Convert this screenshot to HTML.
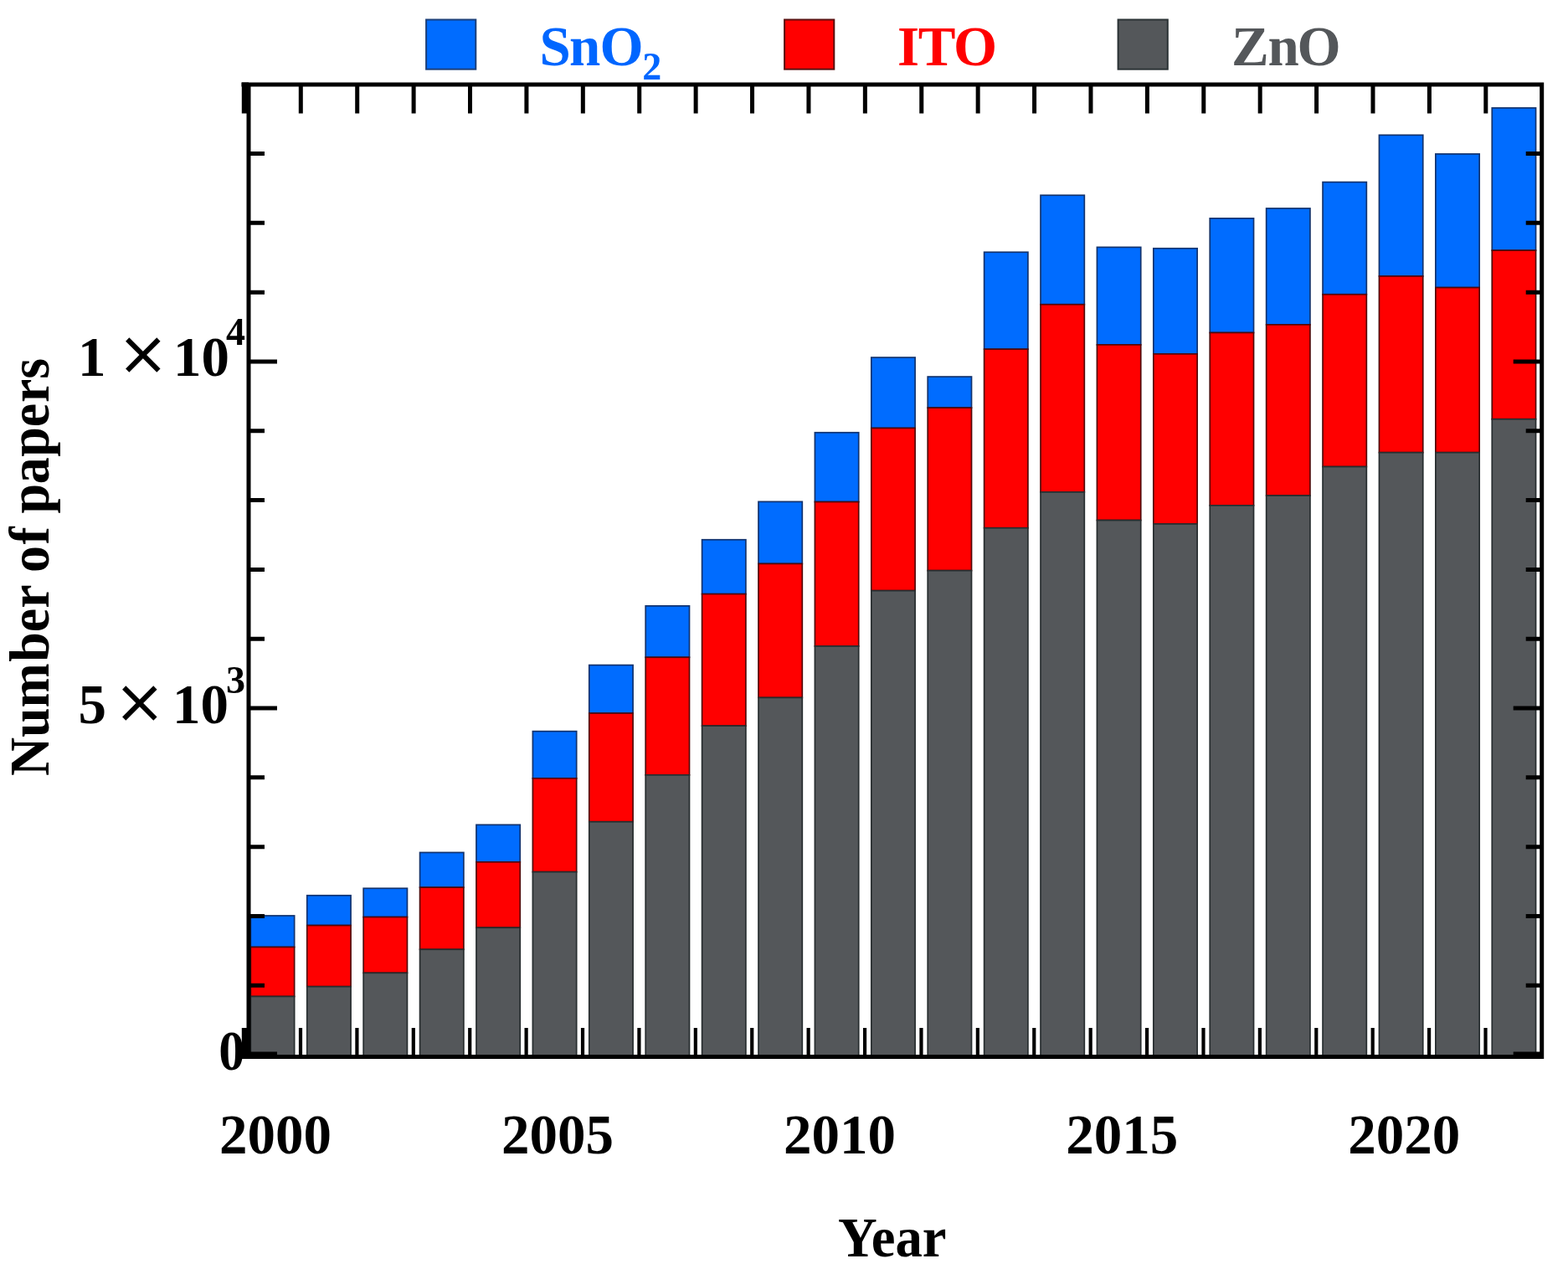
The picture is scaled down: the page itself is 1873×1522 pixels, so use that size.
<!DOCTYPE html>
<html><head><meta charset="utf-8"><title>Number of papers per year</title>
<style>html,body{margin:0;padding:0;background:#fff}svg{display:block}</style></head>
<body><div id="w"><svg width="1873" height="1522" viewBox="0 0 1873 1522">
<rect width="1873" height="1522" fill="#fff"/>
<rect x="299.35" y="1093.95" width="52.30" height="37.50" fill="#006cff" stroke="#12336e" stroke-width="1.7"/>
<rect x="299.35" y="1131.45" width="52.30" height="59.00" fill="#ff0000" stroke="#520808" stroke-width="1.7"/>
<rect x="299.35" y="1190.45" width="52.30" height="70.40" fill="#54575a" stroke="#272d2f" stroke-width="1.7"/>
<rect x="366.75" y="1069.75" width="52.30" height="35.80" fill="#006cff" stroke="#12336e" stroke-width="1.7"/>
<rect x="366.75" y="1105.55" width="52.30" height="73.10" fill="#ff0000" stroke="#520808" stroke-width="1.7"/>
<rect x="366.75" y="1178.65" width="52.30" height="82.20" fill="#54575a" stroke="#272d2f" stroke-width="1.7"/>
<rect x="434.16" y="1061.25" width="52.30" height="34.30" fill="#006cff" stroke="#12336e" stroke-width="1.7"/>
<rect x="434.16" y="1095.55" width="52.30" height="66.80" fill="#ff0000" stroke="#520808" stroke-width="1.7"/>
<rect x="434.16" y="1162.35" width="52.30" height="98.50" fill="#54575a" stroke="#272d2f" stroke-width="1.7"/>
<rect x="501.57" y="1018.45" width="52.30" height="41.70" fill="#006cff" stroke="#12336e" stroke-width="1.7"/>
<rect x="501.57" y="1060.15" width="52.30" height="74.10" fill="#ff0000" stroke="#520808" stroke-width="1.7"/>
<rect x="501.57" y="1134.25" width="52.30" height="126.60" fill="#54575a" stroke="#272d2f" stroke-width="1.7"/>
<rect x="568.97" y="985.35" width="52.30" height="44.50" fill="#006cff" stroke="#12336e" stroke-width="1.7"/>
<rect x="568.97" y="1029.85" width="52.30" height="78.40" fill="#ff0000" stroke="#520808" stroke-width="1.7"/>
<rect x="568.97" y="1108.25" width="52.30" height="152.60" fill="#54575a" stroke="#272d2f" stroke-width="1.7"/>
<rect x="636.38" y="873.65" width="52.30" height="56.20" fill="#006cff" stroke="#12336e" stroke-width="1.7"/>
<rect x="636.38" y="929.85" width="52.30" height="111.80" fill="#ff0000" stroke="#520808" stroke-width="1.7"/>
<rect x="636.38" y="1041.65" width="52.30" height="219.20" fill="#54575a" stroke="#272d2f" stroke-width="1.7"/>
<rect x="703.78" y="794.55" width="52.30" height="57.50" fill="#006cff" stroke="#12336e" stroke-width="1.7"/>
<rect x="703.78" y="852.05" width="52.30" height="129.70" fill="#ff0000" stroke="#520808" stroke-width="1.7"/>
<rect x="703.78" y="981.75" width="52.30" height="279.10" fill="#54575a" stroke="#272d2f" stroke-width="1.7"/>
<rect x="771.19" y="723.85" width="52.30" height="61.40" fill="#006cff" stroke="#12336e" stroke-width="1.7"/>
<rect x="771.19" y="785.25" width="52.30" height="140.60" fill="#ff0000" stroke="#520808" stroke-width="1.7"/>
<rect x="771.19" y="925.85" width="52.30" height="335.00" fill="#54575a" stroke="#272d2f" stroke-width="1.7"/>
<rect x="838.59" y="644.75" width="52.30" height="64.90" fill="#006cff" stroke="#12336e" stroke-width="1.7"/>
<rect x="838.59" y="709.65" width="52.30" height="157.50" fill="#ff0000" stroke="#520808" stroke-width="1.7"/>
<rect x="838.59" y="867.15" width="52.30" height="393.70" fill="#54575a" stroke="#272d2f" stroke-width="1.7"/>
<rect x="906.00" y="599.35" width="52.30" height="74.10" fill="#006cff" stroke="#12336e" stroke-width="1.7"/>
<rect x="906.00" y="673.45" width="52.30" height="160.00" fill="#ff0000" stroke="#520808" stroke-width="1.7"/>
<rect x="906.00" y="833.45" width="52.30" height="427.40" fill="#54575a" stroke="#272d2f" stroke-width="1.7"/>
<rect x="973.40" y="516.75" width="52.30" height="82.80" fill="#006cff" stroke="#12336e" stroke-width="1.7"/>
<rect x="973.40" y="599.55" width="52.30" height="172.40" fill="#ff0000" stroke="#520808" stroke-width="1.7"/>
<rect x="973.40" y="771.95" width="52.30" height="488.90" fill="#54575a" stroke="#272d2f" stroke-width="1.7"/>
<rect x="1040.80" y="427.05" width="52.30" height="84.40" fill="#006cff" stroke="#12336e" stroke-width="1.7"/>
<rect x="1040.80" y="511.45" width="52.30" height="194.20" fill="#ff0000" stroke="#520808" stroke-width="1.7"/>
<rect x="1040.80" y="705.65" width="52.30" height="555.20" fill="#54575a" stroke="#272d2f" stroke-width="1.7"/>
<rect x="1108.21" y="450.05" width="52.30" height="37.10" fill="#006cff" stroke="#12336e" stroke-width="1.7"/>
<rect x="1108.21" y="487.15" width="52.30" height="194.50" fill="#ff0000" stroke="#520808" stroke-width="1.7"/>
<rect x="1108.21" y="681.65" width="52.30" height="579.20" fill="#54575a" stroke="#272d2f" stroke-width="1.7"/>
<rect x="1175.61" y="301.25" width="52.30" height="115.90" fill="#006cff" stroke="#12336e" stroke-width="1.7"/>
<rect x="1175.61" y="417.15" width="52.30" height="213.60" fill="#ff0000" stroke="#520808" stroke-width="1.7"/>
<rect x="1175.61" y="630.75" width="52.30" height="630.10" fill="#54575a" stroke="#272d2f" stroke-width="1.7"/>
<rect x="1243.02" y="233.25" width="52.30" height="130.50" fill="#006cff" stroke="#12336e" stroke-width="1.7"/>
<rect x="1243.02" y="363.75" width="52.30" height="224.10" fill="#ff0000" stroke="#520808" stroke-width="1.7"/>
<rect x="1243.02" y="587.85" width="52.30" height="673.00" fill="#54575a" stroke="#272d2f" stroke-width="1.7"/>
<rect x="1310.42" y="295.35" width="52.30" height="116.50" fill="#006cff" stroke="#12336e" stroke-width="1.7"/>
<rect x="1310.42" y="411.85" width="52.30" height="209.70" fill="#ff0000" stroke="#520808" stroke-width="1.7"/>
<rect x="1310.42" y="621.55" width="52.30" height="639.30" fill="#54575a" stroke="#272d2f" stroke-width="1.7"/>
<rect x="1377.83" y="296.75" width="52.30" height="126.10" fill="#006cff" stroke="#12336e" stroke-width="1.7"/>
<rect x="1377.83" y="422.85" width="52.30" height="203.10" fill="#ff0000" stroke="#520808" stroke-width="1.7"/>
<rect x="1377.83" y="625.95" width="52.30" height="634.90" fill="#54575a" stroke="#272d2f" stroke-width="1.7"/>
<rect x="1445.23" y="260.85" width="52.30" height="136.60" fill="#006cff" stroke="#12336e" stroke-width="1.7"/>
<rect x="1445.23" y="397.45" width="52.30" height="206.40" fill="#ff0000" stroke="#520808" stroke-width="1.7"/>
<rect x="1445.23" y="603.85" width="52.30" height="657.00" fill="#54575a" stroke="#272d2f" stroke-width="1.7"/>
<rect x="1512.64" y="248.95" width="52.30" height="138.90" fill="#006cff" stroke="#12336e" stroke-width="1.7"/>
<rect x="1512.64" y="387.85" width="52.30" height="204.20" fill="#ff0000" stroke="#520808" stroke-width="1.7"/>
<rect x="1512.64" y="592.05" width="52.30" height="668.80" fill="#54575a" stroke="#272d2f" stroke-width="1.7"/>
<rect x="1580.04" y="217.55" width="52.30" height="134.20" fill="#006cff" stroke="#12336e" stroke-width="1.7"/>
<rect x="1580.04" y="351.75" width="52.30" height="205.80" fill="#ff0000" stroke="#520808" stroke-width="1.7"/>
<rect x="1580.04" y="557.55" width="52.30" height="703.30" fill="#54575a" stroke="#272d2f" stroke-width="1.7"/>
<rect x="1647.45" y="161.35" width="52.30" height="168.60" fill="#006cff" stroke="#12336e" stroke-width="1.7"/>
<rect x="1647.45" y="329.95" width="52.30" height="210.70" fill="#ff0000" stroke="#520808" stroke-width="1.7"/>
<rect x="1647.45" y="540.65" width="52.30" height="720.20" fill="#54575a" stroke="#272d2f" stroke-width="1.7"/>
<rect x="1714.86" y="183.95" width="52.30" height="159.60" fill="#006cff" stroke="#12336e" stroke-width="1.7"/>
<rect x="1714.86" y="343.55" width="52.30" height="197.10" fill="#ff0000" stroke="#520808" stroke-width="1.7"/>
<rect x="1714.86" y="540.65" width="52.30" height="720.20" fill="#54575a" stroke="#272d2f" stroke-width="1.7"/>
<rect x="1782.26" y="128.95" width="52.30" height="170.20" fill="#006cff" stroke="#12336e" stroke-width="1.7"/>
<rect x="1782.26" y="299.15" width="52.30" height="201.60" fill="#ff0000" stroke="#520808" stroke-width="1.7"/>
<rect x="1782.26" y="500.75" width="52.30" height="760.10" fill="#54575a" stroke="#272d2f" stroke-width="1.7"/>
<path d="M359.00 1228V1262.5M426.41 1228V1262.5M493.81 1228V1262.5M561.22 1228V1262.5M628.62 1228V1262.5M696.03 1228V1262.5M763.43 1228V1262.5M830.84 1228V1262.5M898.24 1228V1262.5M965.64 1228V1262.5M1033.05 1228V1262.5M1100.46 1228V1262.5M1167.86 1228V1262.5M1235.27 1228V1262.5M1302.67 1228V1262.5M1370.08 1228V1262.5M1437.48 1228V1262.5M1504.88 1228V1262.5M1572.29 1228V1262.5M1639.69 1228V1262.5M1707.10 1228V1262.5M1774.51 1228V1262.5" stroke="#000" stroke-width="4.2" fill="none"/>
<path d="M288.8 98.5H297V135.5H288.8ZM288.8 1228H297V1265H288.8Z" fill="#000"/>
<path d="M359.30 101.0V135.5M426.71 101.0V135.5M494.11 101.0V135.5M561.51 101.0V135.5M628.92 101.0V135.5M696.33 101.0V135.5M763.73 101.0V135.5M831.13 101.0V135.5M898.54 101.0V135.5M965.94 101.0V135.5M1033.35 101.0V135.5M1100.76 101.0V135.5M1168.16 101.0V135.5M1235.57 101.0V135.5M1302.97 101.0V135.5M1370.38 101.0V135.5M1437.78 101.0V135.5M1505.18 101.0V135.5M1572.59 101.0V135.5M1639.99 101.0V135.5M1707.40 101.0V135.5M1774.81 101.0V135.5M297.0 1259.00H331.0M1841.7 1259.00H1807.7M297.0 1177.33H316.0M1841.7 1177.33H1822.7M297.0 1094.51H316.0M1841.7 1094.51H1822.7M297.0 1011.69H316.0M1841.7 1011.69H1822.7M297.0 928.87H316.0M1841.7 928.87H1822.7M297.0 846.05H331.0M1841.7 846.05H1807.7M297.0 763.23H316.0M1841.7 763.23H1822.7M297.0 680.41H316.0M1841.7 680.41H1822.7M297.0 597.59H316.0M1841.7 597.59H1822.7M297.0 514.77H316.0M1841.7 514.77H1822.7M297.0 431.95H331.0M1841.7 431.95H1807.7M297.0 349.13H316.0M1841.7 349.13H1822.7M297.0 266.31H316.0M1841.7 266.31H1822.7M297.0 183.49H316.0M1841.7 183.49H1822.7" stroke="#000" stroke-width="5" fill="none"/>
<path d="M288.5 101.0H1844.2M288.5 1262.5H1844.2M297.0 98.5V1265.0M1841.7 98.5V1265.0" fill="none" stroke="#000" stroke-width="5.0"/>
<rect x="509.1" y="23.5" width="59.2" height="59.2" fill="#006cff" stroke="#1b3f7a" stroke-width="2"/>
<rect x="937.1" y="23.5" width="59.2" height="59.2" fill="#ff0000" stroke="#5a1010" stroke-width="2"/>
<rect x="1335.6" y="23.5" width="59.2" height="59.2" fill="#54575a" stroke="#2b3335" stroke-width="2"/>
<text x="328.9" y="1378" text-anchor="middle" style="font-family:'Liberation Serif',serif;font-weight:bold;font-size:67px">2000</text>
<text x="666.0" y="1378" text-anchor="middle" style="font-family:'Liberation Serif',serif;font-weight:bold;font-size:67px">2005</text>
<text x="1003.1" y="1378" text-anchor="middle" style="font-family:'Liberation Serif',serif;font-weight:bold;font-size:67px">2010</text>
<text x="1340.2" y="1378" text-anchor="middle" style="font-family:'Liberation Serif',serif;font-weight:bold;font-size:67px">2015</text>
<text x="1677.3" y="1378" text-anchor="middle" style="font-family:'Liberation Serif',serif;font-weight:bold;font-size:67px">2020</text>
<text transform="translate(1065.8 1501) scale(0.966 1)" x="0" y="0" text-anchor="middle" style="font-family:'Liberation Serif',serif;font-weight:bold;font-size:67px">Year</text>
<text transform="translate(57.9 927.0) rotate(-90) scale(0.952 1)" x="0" y="0" dx="0 0 0 1.6 0.1 0.1 0 -0.2 1.6 0 -0.2 -0.3 0.7 0.1 0.9 0" style="font-family:'Liberation Serif',serif;font-weight:bold;font-size:67px">Number of papers</text>
<text transform="translate(292.3 1278) scale(0.93 1)" text-anchor="end" style="font-family:'Liberation Serif',serif;font-weight:bold;font-size:67px">0</text>
<text x="93" y="449" style="font-family:'Liberation Serif',serif;font-weight:bold;font-size:67px">1</text>
<text x="140" y="447.3" style="font-family:'DejaVu Sans',sans-serif;font-size:73.5px">&#215;</text>
<text x="207" y="449" style="font-family:'Liberation Serif',serif;font-weight:bold;font-size:67px">10</text>
<text x="270" y="411.6" style="font-family:'Liberation Serif',serif;font-weight:bold;font-size:46px">4</text>
<text x="93.5" y="864" style="font-family:'Liberation Serif',serif;font-weight:bold;font-size:67px">5</text>
<text x="136" y="863.4" style="font-family:'DejaVu Sans',sans-serif;font-size:73.5px">&#215;</text>
<text x="206" y="864" style="font-family:'Liberation Serif',serif;font-weight:bold;font-size:67px">10</text>
<text x="270" y="827.8" style="font-family:'Liberation Serif',serif;font-weight:bold;font-size:46px">3</text>
<text x="644.5" y="77.8" style="font-family:'Liberation Serif',serif;font-weight:bold;font-size:67px;fill:#0066ff">S<tspan dx="-1.7">n</tspan><tspan dx="-0.8">O</tspan><tspan font-size="46" dx="-1.5" dy="17">2</tspan></text>
<text x="1072" y="77.8" style="font-family:'Liberation Serif',serif;font-weight:bold;font-size:67px;fill:#ff0000">I<tspan dx="-1.4">T</tspan><tspan dx="-1.1">O</tspan></text>
<text x="1471" y="77.8" style="font-family:'Liberation Serif',serif;font-weight:bold;font-size:67px;fill:#54575a">Z<tspan dx="-1.3">n</tspan><tspan dx="-2.2">O</tspan></text>
</svg></div></body></html>
